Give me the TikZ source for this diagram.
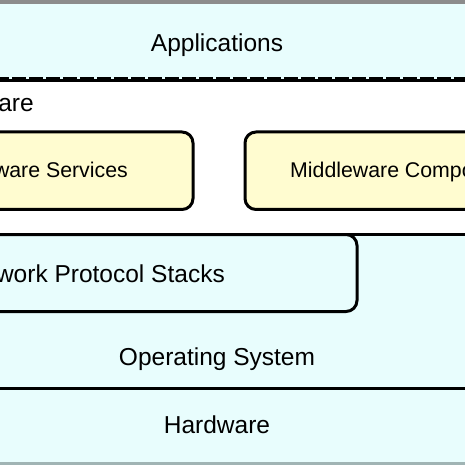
\documentclass[tikz,border=0pt]{standalone}
\usepackage{fontspec}
\setmainfont{Liberation Sans}
\definecolor{layercyan}{RGB}{232,253,253}
\definecolor{boxyellow}{RGB}{255,252,208}
\definecolor{topgray}{RGB}{140,140,140}
\definecolor{botgray}{RGB}{160,180,180}
\tikzset{
  bigtext/.style={inner sep=0pt, font=\fontsize{24.5bp}{29bp}\selectfont},
  smalltext/.style={inner sep=0pt, font=\fontsize{21.3bp}{25bp}\selectfont},
  compbox/.style={draw=black, line width=3bp, rounded corners=11bp},
  sepline/.style={draw=black, line width=3bp}
}
\begin{document}
\begin{tikzpicture}[x=1bp,y=-1bp]
\useasboundingbox (0,0) rectangle (465,465);
\clip (0,0) rectangle (465,465);
% layer backgrounds
\fill[layercyan] (0,0) rectangle (465,80);
\fill[topgray] (0,0) rectangle (465,4.5);
\fill[white] (0,80) rectangle (465,234);
\fill[layercyan] (0,234) rectangle (465,465);
\fill[botgray] (0,461.5) rectangle (465,465);
% separators
\draw[black, line width=3bp] (-5,80.5) -- (470,80.5);
\draw[black, line width=2bp, dash pattern=on 14bp off 3bp] (-5,78) -- (470,78);
\draw[black, line width=2.5bp] (-5,234.5) -- (470,234.5);
\draw[sepline] (-5,388) -- (470,388);
% middleware components
\draw[compbox, fill=boxyellow] (-125,132) rectangle (193,209.5);
\draw[compbox, fill=boxyellow] (245,132) rectangle (580,209.5);
% network protocol stacks
\draw[compbox, fill=layercyan] (-160,234.5) rectangle (357,311.5);
% texts
\node[bigtext, anchor=base] (app) at (217,52) {Applications};
\node[bigtext, anchor=base east] (mw) at (34,112) {Middleware};
\node[smalltext, anchor=base east] (mws) at (128,178) {Middleware Services};
\node[smalltext, anchor=base west] (mwc) at (290,178) {Middleware Components};
\node[bigtext, anchor=base east] (nps) at (225,282) {Network Protocol Stacks};
\node[bigtext, anchor=base] (os) at (217,365) {Operating System};
\node[bigtext, anchor=base] (hw) at (217,433) {Hardware};
\end{tikzpicture}
\end{document}
